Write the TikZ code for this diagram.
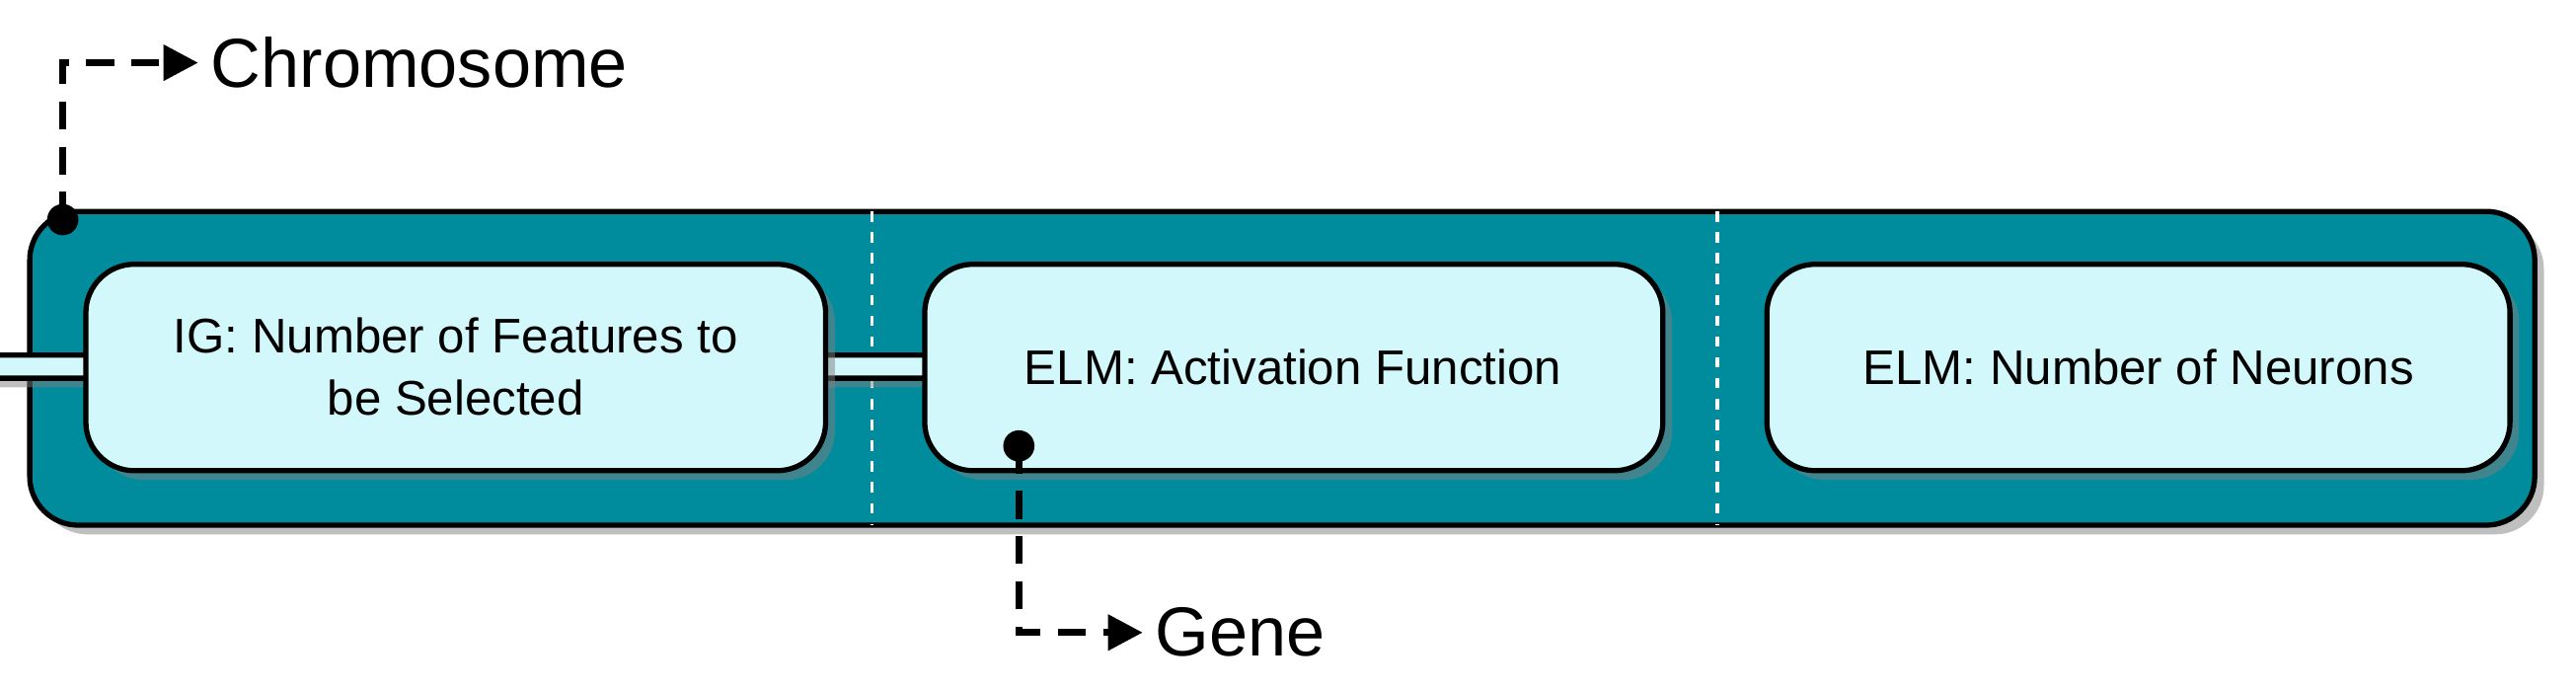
\documentclass[tikz,border=0pt]{standalone}
\usepackage{fontspec}
\setmainfont{Liberation Sans}
\usetikzlibrary{arrows.meta,shadows}
\definecolor{chromteal}{HTML}{008C9C}
\definecolor{genecyan}{HTML}{D2F8FC}
\begin{document}
\begin{tikzpicture}[x=0.01673cm, y=-0.01673cm, thick,
  chrom/.style = {draw, line width=1.5pt, fill=chromteal, rounded corners=14pt, drop shadow},
  gene/.style = {draw, line width=1.5pt, fill=genecyan, rounded corners=14pt, drop shadow, align=center, font=\fontsize{14}{17}\selectfont},
  pointer/.style = {line width=2pt, dash pattern=on 8pt off 5pt, -{Triangle[length=10pt,width=10pt]}},
  dot/.style = {circle, fill=black, inner sep=0pt, minimum size=9pt},
  label/.style = {anchor=west, font=\fontsize{20}{24}\selectfont}]
\useasboundingbox (0,0) rectangle (1560,418);
\draw[chrom] (18,128) rectangle (1535,318);
\draw[white, dashed, line width=1pt] (528,128) -- (528,318);
\draw[white, dashed, line width=1pt] (1040,128) -- (1040,318);
\node[gene, minimum width=448\pgflinewidth] (g1) at (276,222) {};
\draw[gene] (52,160) rectangle (500,285);
\draw[gene] (560,160) rectangle (1007,285);
\draw[gene] (1070,160) rectangle (1520,285);
\node[align=center, font=\fontsize{14}{18}\selectfont] (ig) at (276,222) {IG: Number of Features to\\be Selected};
\node[font=\fontsize{14}{18}\selectfont] (act) at (783,222) {ELM: Activation Function};
\node[font=\fontsize{14}{18}\selectfont] (neu) at (1295,222) {ELM: Number of Neurons};
% pointers
\node[dot] (cdot) at (38,133) {};
\coordinate (cbend) at (38,38);
\node[label] (chrom) at (120,38) {Chromosome};
\draw[pointer] (cdot.center) -- (cbend) -- (chrom.west);
\node[dot] (gdot) at (617,270) {};
\coordinate (gbend) at (617,383);
\node[label] (gene) at (692,383) {Gene};
\draw[pointer] (gdot.center) -- (gbend) -- (gene.west);
\end{tikzpicture}
\end{document}
